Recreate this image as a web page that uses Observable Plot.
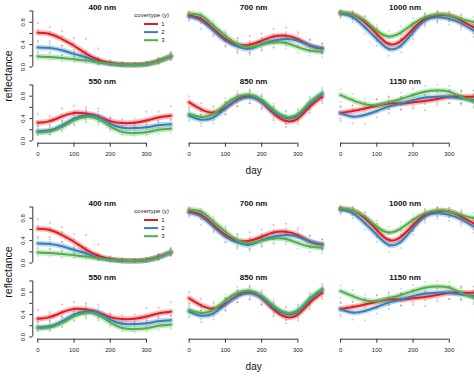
<!DOCTYPE html>
<html><head><meta charset="utf-8">
<script src="https://cdn.jsdelivr.net/npm/d3@7"></script>
<script src="https://cdn.jsdelivr.net/npm/@observablehq/plot@0.6"></script>
<style>
html,body{margin:0;padding:0;background:#fff;overflow:hidden}
svg{display:block}
</style>
</head><body><div id="chart"></div>
<script>
// ---- data ----
const days = [0, 33, 67, 100, 133, 167, 200, 233, 267, 300, 333, 367];
const coverTypes = ["1", "2", "3"];
const coverColors = ["#E41A1C", "#377EB8", "#4DAF4A"];
const panelTitles = ["400 nm", "700 nm", "1000 nm", "550 nm", "850 nm", "1150 nm"];
const xTicks = [0, 100, 200, 300];
const yTicks = [0, 0.2, 0.4, 0.6, 0.8, 1];
const yTickLabels = ["0.0", "", "0.4", "", "0.8", ""];
const xLabel = "day";
const yLabel = "reflectance";
const legendTitle = "covertype (y)";

// smoothed fits per wavelength, per covertype (1, 2, 3)
const fit400_1 = [0.61, 0.59, 0.50, 0.38, 0.24, 0.13, 0.07, 0.045, 0.04, 0.055, 0.11, 0.19];
const fit400_2 = [0.35, 0.34, 0.30, 0.235, 0.175, 0.09, 0.06, 0.04, 0.035, 0.05, 0.10, 0.19];
const fit400_3 = [0.19, 0.18, 0.16, 0.14, 0.115, 0.085, 0.06, 0.045, 0.04, 0.05, 0.10, 0.20];
const fit550_1 = [0.325, 0.355, 0.44, 0.50, 0.49, 0.44, 0.355, 0.32, 0.325, 0.365, 0.42, 0.45];
const fit550_2 = [0.175, 0.19, 0.28, 0.40, 0.455, 0.43, 0.31, 0.235, 0.23, 0.245, 0.28, 0.30];
const fit550_3 = [0.155, 0.17, 0.25, 0.37, 0.43, 0.385, 0.26, 0.16, 0.14, 0.155, 0.20, 0.22];
const fit700_1 = [0.92, 0.86, 0.68, 0.50, 0.40, 0.40, 0.47, 0.545, 0.56, 0.50, 0.385, 0.33];
const fit700_2 = [0.90, 0.83, 0.65, 0.47, 0.365, 0.325, 0.41, 0.47, 0.50, 0.47, 0.385, 0.33];
const fit700_3 = [0.95, 0.92, 0.74, 0.56, 0.41, 0.355, 0.40, 0.44, 0.43, 0.355, 0.295, 0.27];
const fit850_1 = [0.69, 0.565, 0.505, 0.595, 0.74, 0.80, 0.695, 0.49, 0.355, 0.40, 0.61, 0.785];
const fit850_2 = [0.45, 0.38, 0.42, 0.58, 0.73, 0.78, 0.70, 0.52, 0.41, 0.45, 0.66, 0.83];
const fit850_3 = [0.485, 0.43, 0.485, 0.655, 0.79, 0.825, 0.74, 0.56, 0.43, 0.48, 0.69, 0.86];
const fit1000_1 = [0.96, 0.94, 0.80, 0.59, 0.41, 0.47, 0.68, 0.86, 0.92, 0.92, 0.83, 0.71];
const fit1000_2 = [0.96, 0.89, 0.71, 0.50, 0.325, 0.385, 0.62, 0.83, 0.89, 0.86, 0.78, 0.65];
const fit1000_3 = [0.98, 0.94, 0.83, 0.65, 0.545, 0.62, 0.77, 0.89, 0.94, 0.92, 0.86, 0.80];
const fit1150_1 = [0.50, 0.535, 0.58, 0.63, 0.67, 0.67, 0.69, 0.715, 0.75, 0.79, 0.79, 0.79];
const fit1150_2 = [0.50, 0.435, 0.465, 0.535, 0.615, 0.67, 0.73, 0.775, 0.79, 0.79, 0.76, 0.73];
const fit1150_3 = [0.82, 0.73, 0.655, 0.64, 0.69, 0.75, 0.82, 0.88, 0.90, 0.88, 0.79, 0.70];

// observed points per day (three per covertype and day)
const pts400_1 = [[0.47,0.66,0.78],[0.46,0.62,0.72],[0.38,0.55,0.64],[0.27,0.42,0.52],[0.14,0.28,0.50],[0.07,0.16,0.33],[0.04,0.08,0.12],[0.02,0.05,0.08],[0.02,0.05,0.07],[0.03,0.06,0.09],[0.07,0.12,0.16],[0.13,0.20,0.26]];
const pts400_2 = [[0.27,0.37,0.44],[0.26,0.36,0.42],[0.22,0.31,0.38],[0.17,0.25,0.31],[0.11,0.19,0.25],[0.05,0.10,0.15],[0.03,0.07,0.10],[0.02,0.05,0.07],[0.02,0.04,0.06],[0.03,0.06,0.08],[0.06,0.11,0.15],[0.13,0.20,0.25]];
const pts400_3 = [[0.13,0.20,0.26],[0.12,0.19,0.25],[0.10,0.17,0.22],[0.09,0.15,0.20],[0.07,0.12,0.17],[0.05,0.09,0.13],[0.03,0.07,0.09],[0.02,0.05,0.07],[0.02,0.04,0.06],[0.03,0.06,0.08],[0.06,0.11,0.15],[0.14,0.21,0.27]];
const pts550_1 = [[0.26,0.34,0.48],[0.29,0.37,0.44],[0.36,0.46,0.58],[0.42,0.52,0.63],[0.40,0.50,0.60],[0.35,0.45,0.58],[0.29,0.37,0.42],[0.26,0.33,0.39],[0.26,0.34,0.40],[0.29,0.38,0.52],[0.34,0.43,0.52],[0.38,0.46,0.62]];
const pts550_2 = [[0.11,0.18,0.27],[0.12,0.20,0.27],[0.19,0.29,0.36],[0.30,0.41,0.50],[0.36,0.46,0.56],[0.33,0.44,0.52],[0.22,0.32,0.40],[0.16,0.24,0.31],[0.15,0.24,0.30],[0.17,0.25,0.33],[0.20,0.29,0.36],[0.22,0.31,0.38]];
const pts550_3 = [[0.10,0.16,0.22],[0.11,0.18,0.24],[0.17,0.26,0.33],[0.28,0.38,0.46],[0.33,0.44,0.53],[0.29,0.39,0.47],[0.18,0.27,0.34],[0.10,0.17,0.23],[0.09,0.15,0.20],[0.10,0.16,0.22],[0.13,0.21,0.28],[0.15,0.23,0.30]];
const pts700_1 = [[0.85,0.93,0.98],[0.78,0.87,0.93],[0.58,0.69,0.78],[0.38,0.51,0.62],[0.28,0.41,0.52],[0.26,0.41,0.55],[0.34,0.48,0.60],[0.42,0.55,0.68],[0.44,0.57,0.70],[0.38,0.51,0.62],[0.28,0.39,0.49],[0.24,0.34,0.42]];
const pts700_2 = [[0.82,0.91,0.96],[0.68,0.84,0.90],[0.55,0.66,0.75],[0.36,0.48,0.58],[0.25,0.37,0.47],[0.22,0.33,0.44],[0.30,0.42,0.52],[0.36,0.48,0.58],[0.38,0.51,0.62],[0.36,0.48,0.58],[0.28,0.39,0.48],[0.24,0.34,0.42]];
const pts700_3 = [[0.88,0.95,1.00],[0.84,0.92,0.97],[0.64,0.75,0.83],[0.46,0.57,0.66],[0.31,0.42,0.51],[0.25,0.36,0.46],[0.30,0.41,0.50],[0.34,0.45,0.54],[0.33,0.44,0.53],[0.26,0.36,0.45],[0.20,0.30,0.39],[0.18,0.28,0.36]];
const pts850_1 = [[0.60,0.70,0.80],[0.47,0.57,0.68],[0.40,0.52,0.62],[0.48,0.60,0.70],[0.62,0.75,0.84],[0.68,0.81,0.90],[0.58,0.70,0.80],[0.37,0.50,0.60],[0.25,0.36,0.46],[0.30,0.41,0.50],[0.50,0.62,0.72],[0.68,0.79,0.87]];
const pts850_2 = [[0.35,0.46,0.55],[0.27,0.39,0.48],[0.31,0.43,0.53],[0.47,0.59,0.69],[0.62,0.74,0.83],[0.67,0.79,0.88],[0.58,0.71,0.80],[0.40,0.53,0.63],[0.30,0.42,0.52],[0.34,0.46,0.55],[0.55,0.67,0.76],[0.72,0.84,0.92]];
const pts850_3 = [[0.38,0.49,0.58],[0.32,0.44,0.53],[0.37,0.49,0.59],[0.54,0.66,0.76],[0.68,0.80,0.89],[0.72,0.83,0.92],[0.62,0.75,0.84],[0.44,0.57,0.67],[0.31,0.44,0.54],[0.36,0.49,0.58],[0.58,0.70,0.79],[0.76,0.87,0.95]];
const pts1000_1 = [[0.90,0.96,1.00],[0.86,0.94,0.99],[0.70,0.81,0.90],[0.47,0.60,0.70],[0.30,0.42,0.52],[0.36,0.48,0.58],[0.57,0.69,0.79],[0.76,0.87,0.95],[0.82,0.93,0.99],[0.82,0.92,0.98],[0.72,0.84,0.92],[0.60,0.72,0.82]];
const pts1000_2 = [[0.88,0.95,1.00],[0.80,0.90,0.96],[0.60,0.72,0.81],[0.38,0.51,0.62],[0.20,0.33,0.44],[0.27,0.39,0.50],[0.50,0.63,0.73],[0.72,0.84,0.92],[0.79,0.90,0.97],[0.76,0.87,0.94],[0.67,0.79,0.88],[0.54,0.66,0.76]];
const pts1000_3 = [[0.92,0.98,1.02],[0.86,0.95,1.00],[0.73,0.84,0.92],[0.54,0.66,0.76],[0.44,0.55,0.65],[0.51,0.63,0.73],[0.66,0.78,0.87],[0.79,0.90,0.97],[0.84,0.94,1.00],[0.82,0.93,0.99],[0.75,0.87,0.95],[0.69,0.81,0.90]];
const pts1150_1 = [[0.40,0.51,0.60],[0.43,0.54,0.64],[0.47,0.59,0.69],[0.52,0.64,0.74],[0.56,0.68,0.78],[0.56,0.68,0.78],[0.58,0.70,0.80],[0.55,0.72,0.82],[0.64,0.76,0.86],[0.68,0.80,0.90],[0.68,0.80,0.90],[0.68,0.80,0.90]];
const pts1150_2 = [[0.36,0.50,0.62],[0.31,0.44,0.56],[0.30,0.47,0.58],[0.42,0.54,0.65],[0.50,0.62,0.73],[0.56,0.68,0.78],[0.62,0.74,0.84],[0.66,0.78,0.88],[0.68,0.80,0.90],[0.68,0.80,0.90],[0.65,0.77,0.87],[0.62,0.74,0.84]];
const pts1150_3 = [[0.70,0.82,0.92],[0.62,0.74,0.84],[0.54,0.66,0.76],[0.53,0.65,0.75],[0.58,0.70,0.80],[0.64,0.76,0.86],[0.71,0.83,0.93],[0.77,0.89,0.98],[0.79,0.91,1.00],[0.77,0.89,0.98],[0.68,0.80,0.90],[0.59,0.71,0.81]];

// ---- assemble tables ----
const panels = [
  {title: panelTitles[0], col: 0, row: 0, fit: [fit400_1, fit400_2, fit400_3], pts: [pts400_1, pts400_2, pts400_3]},
  {title: panelTitles[1], col: 1, row: 0, fit: [fit700_1, fit700_2, fit700_3], pts: [pts700_1, pts700_2, pts700_3]},
  {title: panelTitles[2], col: 2, row: 0, fit: [fit1000_1, fit1000_2, fit1000_3], pts: [pts1000_1, pts1000_2, pts1000_3]},
  {title: panelTitles[3], col: 0, row: 1, fit: [fit550_1, fit550_2, fit550_3], pts: [pts550_1, pts550_2, pts550_3]},
  {title: panelTitles[4], col: 1, row: 1, fit: [fit850_1, fit850_2, fit850_3], pts: [pts850_1, pts850_2, pts850_3]},
  {title: panelTitles[5], col: 2, row: 1, fit: [fit1150_1, fit1150_2, fit1150_3], pts: [pts1150_1, pts1150_2, pts1150_3]}
];
const fitRows = [], ptRows = [], titleRows = [];
panels.forEach(p => {
  titleRows.push({col: p.col, row: p.row, title: p.title});
  p.fit.forEach((arr, k) => arr.forEach((v, i) => fitRows.push({col: p.col, row: p.row, ct: coverTypes[k], day: days[i], v})));
  p.pts.forEach((arr, k) => arr.forEach((trip, i) => trip.forEach(v => ptRows.push({col: p.col, row: p.row, ct: coverTypes[k], day: days[i], v}))));
});

const X_DOMAIN = [-13.8, 369.6];
const Y_DOMAIN = [-0.04, 1.04];
const FONT = "'Liberation Sans', Arial, Helvetica, sans-serif";

function makeBlock(h, mb) {
  const plot = Plot.plot({
    width: 474, height: h,
    marginLeft: 32.3, marginRight: 0, marginTop: 8.3, marginBottom: mb,
    style: {fontFamily: FONT, background: "white", color: "#222", overflow: "visible"},
    fx: {domain: [0, 1, 2], paddingInner: 0.0825, paddingOuter: 0, round: false, axis: null},
    fy: {domain: [0, 1], paddingInner: 0.1824, paddingOuter: 0, round: false, axis: null},
    x: {domain: X_DOMAIN},
    y: {domain: Y_DOMAIN},
    color: {domain: coverTypes, range: coverColors},
    marks: [
      Plot.dot(ptRows, {x: "day", y: "v", fx: "col", fy: "row", fill: "ct", r: 1, fillOpacity: 0.35, stroke: "none"}),
      Plot.line(fitRows, {x: "day", y: "v", z: "ct", fx: "col", fy: "row", stroke: "ct", strokeWidth: 5.5, strokeOpacity: 0.3, curve: "natural"}),
      Plot.line(fitRows, {x: "day", y: "v", z: "ct", fx: "col", fy: "row", stroke: "ct", strokeWidth: 2, curve: "natural"}),
      Plot.text(titleRows, {fx: "col", fy: "row", text: "title", frameAnchor: "top", dy: -4.5, fontWeight: "bold", fontSize: 8, fill: "#111"}),
      Plot.ruleX([X_DOMAIN[0]], {y1: yTicks[0], y2: yTicks[yTicks.length - 1], facetAnchor: "left", stroke: "#333"}),
      Plot.axisY({ticks: yTicks, tickSize: 3, tickPadding: 4.5, tickRotate: -90, fontSize: 6,
        tickFormat: d => yTickLabels[yTicks.indexOf(d)], label: null, stroke: "#333"}),
      Plot.ruleY([Y_DOMAIN[0]], {x1: xTicks[0], x2: xTicks[xTicks.length - 1], facetAnchor: "bottom", stroke: "#333"}),
      Plot.axisX({ticks: xTicks, tickSize: 4, tickPadding: 5, fontSize: 6, label: null, stroke: "#333"}),
      Plot.text([{col: 1, row: 1, t: xLabel}], {fx: "col", fy: "row", text: "t", frameAnchor: "bottom", dy: 30.5, fontSize: 10, fill: "#111"})
    ]
  });
  const svg = d3.select(plot);
  // y axis title
  svg.append("text").attr("transform", "translate(7.5,76) rotate(-90)")
    .attr("text-anchor", "middle").attr("dominant-baseline", "central")
    .attr("font-family", FONT).attr("font-size", 10.5).attr("fill", "#111").text(yLabel);
  // legend inside the first panel
  const g = svg.append("g").attr("font-family", FONT).attr("font-size", 6).attr("fill", "#222");
  g.append("text").attr("x", 169).attr("y", 15).attr("text-anchor", "end").attr("dy", "0.35em").text(legendTitle);
  coverTypes.forEach((c, i) => {
    const y = 24 + i * 8.1;
    g.append("line").attr("x1", 144).attr("x2", 158).attr("y1", y).attr("y2", y)
      .attr("stroke", coverColors[i]).attr("stroke-width", 2);
    g.append("text").attr("x", 163).attr("y", y).attr("dy", "0.35em").text(c);
  });
  return plot;
}

const root = document.getElementById("chart");
root.appendChild(makeBlock(196, 53.3));
root.appendChild(makeBlock(181, 38.3));
</script>
</body></html>
